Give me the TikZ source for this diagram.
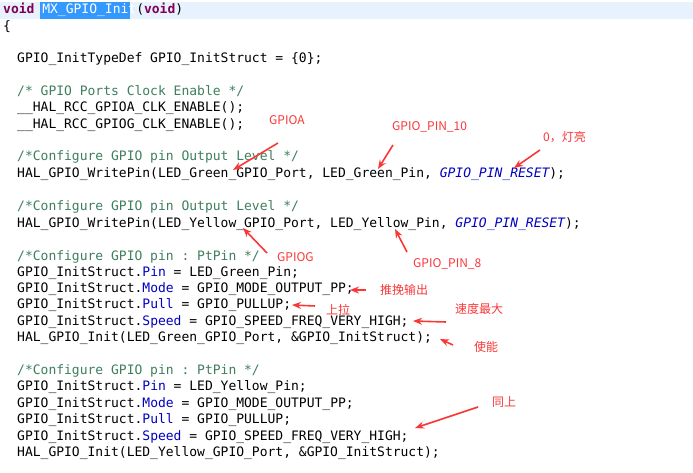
\documentclass[tikz,border=0pt]{standalone}
\usepackage{fontspec}
\setmonofont{DejaVu Sans Mono}
\newfontfamily\cjk{Noto Sans CJK SC}
\usetikzlibrary{arrows.meta}
\definecolor{cmt}{RGB}{63,127,95}
\definecolor{cst}{RGB}{0,0,192}
\definecolor{kw}{RGB}{127,0,85}
\definecolor{ann}{RGB}{250,55,55}
\definecolor{linebg}{RGB}{232,242,254}
\definecolor{sel}{RGB}{51,153,255}
\newcommand{\cm}[1]{\textcolor{cmt}{#1}}
\newcommand{\cs}[1]{\textcolor{cst}{\itshape #1}}
\newcommand{\fd}[1]{\textcolor{cst}{#1}}
\begin{document}
\begin{tikzpicture}[x=1pt,y=-1pt,
  code/.style={anchor=base west,inner sep=0,font=\ttfamily\fontsize{13}{15}\selectfont},
  lab/.style={anchor=base west,inner sep=0,text=ann,font=\cjk\fontsize{12}{14}\selectfont},
  arr/.style={draw=ann,line width=1.6pt,-{Stealth[length=9pt,width=7pt]}}]
\useasboundingbox (0,0) rectangle (693,473);
\fill[white] (0,0) rectangle (693,473);
\fill[linebg] (0,2) rectangle (693,19);
\fill[sel] (40,2) rectangle (130,19);
\node[code] (l1) at (3,14) {\textcolor{kw}{\bfseries void} \textcolor{white}{MX\_GPIO\_Init}(\textcolor{kw}{\bfseries void})};
\node[code] (l2) at (3,31) {\{};
\node[code] (l3) at (17,63) {GPIO\_InitTypeDef GPIO\_InitStruct = \{0\};};
\node[code] (l4) at (17,96) {\cm{/* GPIO Ports Clock Enable */}};
\node[code] (l5) at (17,112) {\_\_HAL\_RCC\_GPIOA\_CLK\_ENABLE();};
\node[code] (l6) at (17,129) {\_\_HAL\_RCC\_GPIOG\_CLK\_ENABLE();};
\node[code] (l7) at (17,161) {\cm{/*Configure GPIO pin Output Level */}};
\node[code] (l8) at (17,178) {HAL\_GPIO\_WritePin(LED\_Green\_GPIO\_Port, LED\_Green\_Pin, \cs{GPIO\_PIN\_RESET});};
\node[code] (l9) at (17,211) {\cm{/*Configure GPIO pin Output Level */}};
\node[code] (l10) at (17,227) {HAL\_GPIO\_WritePin(LED\_Yellow\_GPIO\_Port, LED\_Yellow\_Pin, \cs{GPIO\_PIN\_RESET});};
\node[code] (l11) at (17,260) {\cm{/*Configure GPIO pin : PtPin */}};
\node[code] (l12) at (17,276) {GPIO\_InitStruct.\fd{Pin} = LED\_Green\_Pin;};
\node[code] (l13) at (17,292) {GPIO\_InitStruct.\fd{Mode} = GPIO\_MODE\_OUTPUT\_PP;};
\node[code] (l14) at (17,308) {GPIO\_InitStruct.\fd{Pull} = GPIO\_PULLUP;};
\node[code] (l15) at (17,325) {GPIO\_InitStruct.\fd{Speed} = GPIO\_SPEED\_FREQ\_VERY\_HIGH;};
\node[code] (l16) at (17,341) {HAL\_GPIO\_Init(LED\_Green\_GPIO\_Port, \&GPIO\_InitStruct);};
\node[code] (l17) at (17,374) {\cm{/*Configure GPIO pin : PtPin */}};
\node[code] (l18) at (17,390) {GPIO\_InitStruct.\fd{Pin} = LED\_Yellow\_Pin;};
\node[code] (l19) at (17,407) {GPIO\_InitStruct.\fd{Mode} = GPIO\_MODE\_OUTPUT\_PP;};
\node[code] (l20) at (17,423) {GPIO\_InitStruct.\fd{Pull} = GPIO\_PULLUP;};
\node[code] (l21) at (17,440) {GPIO\_InitStruct.\fd{Speed} = GPIO\_SPEED\_FREQ\_VERY\_HIGH;};
\node[code] (l22) at (17,456) {HAL\_GPIO\_Init(LED\_Yellow\_GPIO\_Port, \&GPIO\_InitStruct);};
% annotations
\node[lab] (a1) at (269,125) {GPIOA};
\node[lab] (a2) at (392,131) {GPIO\_PIN\_10};
\node[lab] (a3) at (543,142) {0，灯亮};
\node[lab] (a4) at (277,261) {GPIOG};
\node[lab] (a5) at (413,267) {GPIO\_PIN\_8};
\node[lab] (a6) at (380,294) {推挽输出};
\node[lab] (a7) at (326,314) {上拉};
\node[lab] (a8) at (455,313) {速度最大};
\node[lab] (a9) at (474,351) {使能};
\node[lab] (a10) at (492,406) {同上};
\coordinate (t1) at (278,143); \coordinate (h1) at (233,170);
\coordinate (t2) at (393,145); \coordinate (h2) at (378,169);
\coordinate (t3) at (540,150); \coordinate (h3) at (514,168);
\coordinate (t4) at (267,253); \coordinate (h4) at (243,228);
\coordinate (t5) at (407,252); \coordinate (h5) at (395,229);
\coordinate (t6) at (366,290); \coordinate (h6) at (350,290);
\coordinate (t7) at (315,306); \coordinate (h7) at (292,305);
\coordinate (t8) at (446,322); \coordinate (h8) at (413,321);
\coordinate (t9) at (453,345); \coordinate (h9) at (440,339);
\coordinate (t10) at (478,407); \coordinate (h10) at (415,428);
\foreach \i in {1,...,10} \draw[arr] (t\i) -- (h\i);
\end{tikzpicture}
\end{document}
